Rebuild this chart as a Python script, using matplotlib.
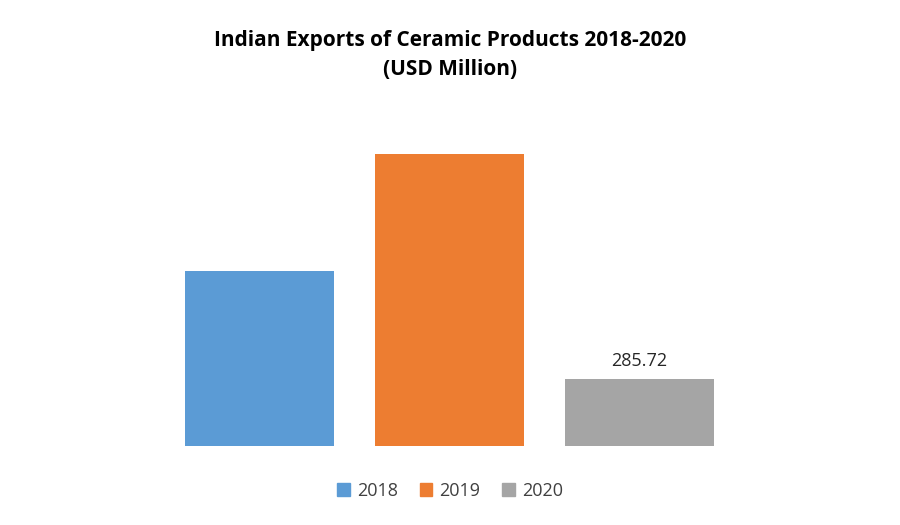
import matplotlib
matplotlib.use("Agg")
from matplotlib import pyplot as plt
from matplotlib.patches import Patch

years = ["2018", "2019", "2020"]
values = [746, 1245, 285.72]
colors = ["#5B9BD5", "#ED7D31", "#A5A5A5"]

plt.rcParams['font.family'] = ['Open Sans', 'DejaVu Sans']

fig = plt.figure(figsize=(9, 5.25), dpi=100)
ax = fig.add_axes([0.183, 0.150, 0.633, 0.581])
ax.bar(range(len(years)), values, width=0.784, color=colors)
ax.set_xlim(-0.5, 2.5)
ax.set_ylim(0, 1300)
ax.axis("off")

# only the 2020 bar carries a label in the reference
ax.text(2, values[2] + 40, f"{values[2]:.2f}", ha="center", va="bottom",
        fontsize=13, color="#262626")

fig.text(0.5, 0.895, "Indian Exports of Ceramic Products 2018-2020\n(USD Million)",
         ha="center", va="center", fontsize=15, fontweight="bold",
         linespacing=1.5, color="black")

handles = [Patch(color=c, label=y) for c, y in zip(colors, years)]
fig.legend(handles=handles, loc="center", bbox_to_anchor=(0.5, 0.065), ncol=3,
           frameon=False, fontsize=13, handlelength=0.7, handleheight=0.7,
           columnspacing=1.2, handletextpad=0.4, labelcolor="#404040")

fig.savefig("out.png", dpi=100, facecolor="white")
